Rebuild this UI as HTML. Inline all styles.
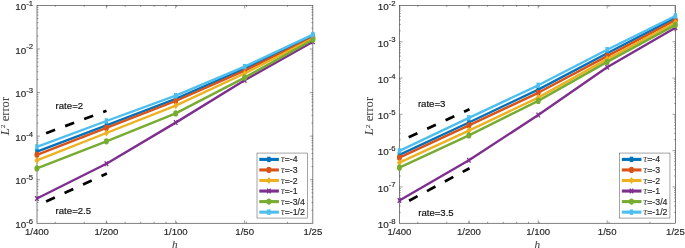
<!DOCTYPE html>
<html><head><meta charset="utf-8"><title>L2 error convergence</title>
<style>html,body{margin:0;padding:0;background:#fff}svg{display:block}text{stroke:#262626;stroke-width:.16px}text.sf{stroke:#555;stroke-width:.1px}</style></head>
<body>
<svg width="685" height="248" viewBox="0 0 685 248" font-family="'Liberation Sans',sans-serif" fill="#262626">
<rect width="685" height="248" fill="#fff"/>
<rect x="37.00" y="5.45" width="275.85" height="217.80" fill="#fff" stroke="#333" stroke-width="0.62"/>
<text x="33.10" y="10.20" text-anchor="end" font-size="9.9">10<tspan dy="-4.3" font-size="7.7">-1</tspan></text>
<text x="33.10" y="53.76" text-anchor="end" font-size="9.9">10<tspan dy="-4.3" font-size="7.7">-2</tspan></text>
<text x="33.10" y="97.32" text-anchor="end" font-size="9.9">10<tspan dy="-4.3" font-size="7.7">-3</tspan></text>
<text x="33.10" y="140.88" text-anchor="end" font-size="9.9">10<tspan dy="-4.3" font-size="7.7">-4</tspan></text>
<text x="33.10" y="184.44" text-anchor="end" font-size="9.9">10<tspan dy="-4.3" font-size="7.7">-5</tspan></text>
<text x="33.10" y="228.00" text-anchor="end" font-size="9.9">10<tspan dy="-4.3" font-size="7.7">-6</tspan></text>
<text x="36.90" y="235.3" text-anchor="middle" font-size="9.6">1/400</text>
<text x="106.40" y="235.3" text-anchor="middle" font-size="9.6">1/200</text>
<text x="175.70" y="235.3" text-anchor="middle" font-size="9.6">1/100</text>
<text x="244.65" y="235.3" text-anchor="middle" font-size="9.6">1/50</text>
<text x="312.90" y="235.3" text-anchor="middle" font-size="9.6">1/25</text>
<path d="M37.00 35.90h1.4M312.85 35.90h-1.4M37.00 28.23h1.4M312.85 28.23h-1.4M37.00 22.78h1.4M312.85 22.78h-1.4M37.00 18.56h1.4M312.85 18.56h-1.4M37.00 15.11h1.4M312.85 15.11h-1.4M37.00 12.20h1.4M312.85 12.20h-1.4M37.00 9.67h1.4M312.85 9.67h-1.4M37.00 7.44h1.4M312.85 7.44h-1.4M37.00 49.01h3M312.85 49.01h-3M37.00 79.46h1.4M312.85 79.46h-1.4M37.00 71.79h1.4M312.85 71.79h-1.4M37.00 66.34h1.4M312.85 66.34h-1.4M37.00 62.12h1.4M312.85 62.12h-1.4M37.00 58.67h1.4M312.85 58.67h-1.4M37.00 55.76h1.4M312.85 55.76h-1.4M37.00 53.23h1.4M312.85 53.23h-1.4M37.00 51.00h1.4M312.85 51.00h-1.4M37.00 92.57h3M312.85 92.57h-3M37.00 123.02h1.4M312.85 123.02h-1.4M37.00 115.35h1.4M312.85 115.35h-1.4M37.00 109.90h1.4M312.85 109.90h-1.4M37.00 105.68h1.4M312.85 105.68h-1.4M37.00 102.23h1.4M312.85 102.23h-1.4M37.00 99.32h1.4M312.85 99.32h-1.4M37.00 96.79h1.4M312.85 96.79h-1.4M37.00 94.56h1.4M312.85 94.56h-1.4M37.00 136.13h3M312.85 136.13h-3M37.00 166.58h1.4M312.85 166.58h-1.4M37.00 158.91h1.4M312.85 158.91h-1.4M37.00 153.46h1.4M312.85 153.46h-1.4M37.00 149.24h1.4M312.85 149.24h-1.4M37.00 145.79h1.4M312.85 145.79h-1.4M37.00 142.88h1.4M312.85 142.88h-1.4M37.00 140.35h1.4M312.85 140.35h-1.4M37.00 138.12h1.4M312.85 138.12h-1.4M37.00 179.69h3M312.85 179.69h-3M37.00 210.14h1.4M312.85 210.14h-1.4M37.00 202.47h1.4M312.85 202.47h-1.4M37.00 197.02h1.4M312.85 197.02h-1.4M37.00 192.80h1.4M312.85 192.80h-1.4M37.00 189.35h1.4M312.85 189.35h-1.4M37.00 186.44h1.4M312.85 186.44h-1.4M37.00 183.91h1.4M312.85 183.91h-1.4M37.00 181.68h1.4M312.85 181.68h-1.4M106.40 223.25v-3M106.40 5.45v3M175.70 223.25v-3M175.70 5.45v3M244.65 223.25v-3M244.65 5.45v3M55.24 223.25v-1.5M55.24 5.45v1.5M84.25 223.25v-1.5M84.25 5.45v1.5M106.75 223.25v-1.5M106.75 5.45v1.5M125.14 223.25v-1.5M125.14 5.45v1.5M140.68 223.25v-1.5M140.68 5.45v1.5M154.15 223.25v-1.5M154.15 5.45v1.5M166.03 223.25v-1.5M166.03 5.45v1.5M176.65 223.25v-1.5M176.65 5.45v1.5M246.55 223.25v-1.5M246.55 5.45v1.5M287.44 223.25v-1.5M287.44 5.45v1.5" stroke="#2a2a2a" stroke-width="0.45" fill="none"/>
<path d="M46.1 133.2L106.5 110.7" stroke="#000" stroke-width="2.7" stroke-dasharray="9.6 10.7" fill="none"/>
<path d="M46.1 201.4L106.9 173.6" stroke="#000" stroke-width="2.7" stroke-dasharray="9.6 10.7" fill="none"/>
<text x="55.6" y="109.0" font-size="9.6" fill="#000">rate=2</text>
<text x="55.6" y="213.6" font-size="9.6" fill="#000">rate=2.5</text>
<polyline points="36.90,151.60 106.40,125.30 175.70,98.90 244.65,68.70 312.90,36.10" fill="none" stroke="#0072BD" stroke-width="2.4" stroke-linejoin="round"/>
<rect x="35.20" y="148.90" width="3.4" height="5.4" fill="#0072BD"/>
<rect x="104.70" y="122.60" width="3.4" height="5.4" fill="#0072BD"/>
<rect x="174.00" y="96.20" width="3.4" height="5.4" fill="#0072BD"/>
<rect x="242.95" y="66.00" width="3.4" height="5.4" fill="#0072BD"/>
<rect x="311.20" y="33.40" width="3.4" height="5.4" fill="#0072BD"/>
<polyline points="36.90,154.80 106.40,127.90 175.70,101.00 244.65,70.70 312.90,37.60" fill="none" stroke="#D95319" stroke-width="2.4" stroke-linejoin="round"/>
<ellipse cx="36.90" cy="154.80" rx="2.5" ry="3.1" fill="#D95319"/>
<ellipse cx="106.40" cy="127.90" rx="2.5" ry="3.1" fill="#D95319"/>
<ellipse cx="175.70" cy="101.00" rx="2.5" ry="3.1" fill="#D95319"/>
<ellipse cx="244.65" cy="70.70" rx="2.5" ry="3.1" fill="#D95319"/>
<ellipse cx="312.90" cy="37.60" rx="2.5" ry="3.1" fill="#D95319"/>
<polyline points="36.90,160.40 106.40,133.00 175.70,105.70 244.65,73.50 312.90,38.60" fill="none" stroke="#EDB120" stroke-width="2.4" stroke-linejoin="round"/>
<path d="M34.45 160.40L36.90 156.90L39.35 160.40L36.90 163.90Z" fill="#EDB120"/>
<path d="M103.95 133.00L106.40 129.50L108.85 133.00L106.40 136.50Z" fill="#EDB120"/>
<path d="M173.25 105.70L175.70 102.20L178.15 105.70L175.70 109.20Z" fill="#EDB120"/>
<path d="M242.20 73.50L244.65 70.00L247.10 73.50L244.65 77.00Z" fill="#EDB120"/>
<path d="M310.45 38.60L312.90 35.10L315.35 38.60L312.90 42.10Z" fill="#EDB120"/>
<polyline points="36.90,198.50 106.40,163.70 175.70,122.60 244.65,80.30 312.90,41.80" fill="none" stroke="#7E2F8E" stroke-width="2.4" stroke-linejoin="round"/>
<path d="M35.22 196.10L38.58 200.90M35.22 200.90L38.58 196.10" stroke="#7E2F8E" stroke-width="1.3" fill="none"/>
<path d="M104.72 161.30L108.08 166.10M104.72 166.10L108.08 161.30" stroke="#7E2F8E" stroke-width="1.3" fill="none"/>
<path d="M174.02 120.20L177.38 125.00M174.02 125.00L177.38 120.20" stroke="#7E2F8E" stroke-width="1.3" fill="none"/>
<path d="M242.97 77.90L246.33 82.70M242.97 82.70L246.33 77.90" stroke="#7E2F8E" stroke-width="1.3" fill="none"/>
<path d="M311.22 39.40L314.58 44.20M311.22 44.20L314.58 39.40" stroke="#7E2F8E" stroke-width="1.3" fill="none"/>
<polyline points="36.90,168.40 106.40,141.30 175.70,113.40 244.65,77.60 312.90,39.70" fill="none" stroke="#77AC30" stroke-width="2.4" stroke-linejoin="round"/>
<ellipse cx="36.90" cy="168.40" rx="2.5" ry="3.1" fill="#77AC30"/>
<ellipse cx="106.40" cy="141.30" rx="2.5" ry="3.1" fill="#77AC30"/>
<ellipse cx="175.70" cy="113.40" rx="2.5" ry="3.1" fill="#77AC30"/>
<ellipse cx="244.65" cy="77.60" rx="2.5" ry="3.1" fill="#77AC30"/>
<ellipse cx="312.90" cy="39.70" rx="2.5" ry="3.1" fill="#77AC30"/>
<polyline points="36.90,146.80 106.40,121.00 175.70,95.70 244.65,66.60 312.90,34.60" fill="none" stroke="#4DBEEE" stroke-width="2.4" stroke-linejoin="round"/>
<rect x="35.20" y="144.10" width="3.4" height="5.4" fill="#4DBEEE"/>
<rect x="104.70" y="118.30" width="3.4" height="5.4" fill="#4DBEEE"/>
<rect x="174.00" y="93.00" width="3.4" height="5.4" fill="#4DBEEE"/>
<rect x="242.95" y="63.90" width="3.4" height="5.4" fill="#4DBEEE"/>
<rect x="311.20" y="31.90" width="3.4" height="5.4" fill="#4DBEEE"/>
<rect x="257.00" y="153.05" width="50.40" height="65.00" fill="#fff" stroke="#4a4a4a" stroke-width="0.5"/>
<path d="M259.30 159.40h19.6" stroke="#0072BD" stroke-width="3.1"/>
<rect x="267.20" y="156.70" width="3.4" height="5.4" fill="#0072BD"/>
<text transform="translate(280.70,162.40) scale(1.18,1)" font-family="'Liberation Serif',serif" font-style="italic" font-size="9.6" fill="#5a5a5a" class="sf">τ</text>
<text x="284.70" y="162.40" font-size="8.75">=-4</text>
<path d="M259.30 169.95h19.6" stroke="#D95319" stroke-width="3.1"/>
<ellipse cx="268.90" cy="169.95" rx="2.5" ry="3.1" fill="#D95319"/>
<text transform="translate(280.70,172.95) scale(1.18,1)" font-family="'Liberation Serif',serif" font-style="italic" font-size="9.6" fill="#5a5a5a" class="sf">τ</text>
<text x="284.70" y="172.95" font-size="8.75">=-3</text>
<path d="M259.30 180.50h19.6" stroke="#EDB120" stroke-width="3.1"/>
<path d="M266.45 180.50L268.90 177.00L271.35 180.50L268.90 184.00Z" fill="#EDB120"/>
<text transform="translate(280.70,183.50) scale(1.18,1)" font-family="'Liberation Serif',serif" font-style="italic" font-size="9.6" fill="#5a5a5a" class="sf">τ</text>
<text x="284.70" y="183.50" font-size="8.75">=-2</text>
<path d="M259.30 191.05h19.6" stroke="#7E2F8E" stroke-width="3.1"/>
<path d="M267.22 188.65L270.58 193.45M267.22 193.45L270.58 188.65" stroke="#7E2F8E" stroke-width="1.3" fill="none"/>
<text transform="translate(280.70,194.05) scale(1.18,1)" font-family="'Liberation Serif',serif" font-style="italic" font-size="9.6" fill="#5a5a5a" class="sf">τ</text>
<text x="284.70" y="194.05" font-size="8.75">=-1</text>
<path d="M259.30 201.60h19.6" stroke="#77AC30" stroke-width="3.1"/>
<ellipse cx="268.90" cy="201.60" rx="2.5" ry="3.1" fill="#77AC30"/>
<text transform="translate(280.70,204.60) scale(1.18,1)" font-family="'Liberation Serif',serif" font-style="italic" font-size="9.6" fill="#5a5a5a" class="sf">τ</text>
<text x="284.70" y="204.60" font-size="8.75">=-3/4</text>
<path d="M259.30 212.15h19.6" stroke="#4DBEEE" stroke-width="3.1"/>
<rect x="267.20" y="209.45" width="3.4" height="5.4" fill="#4DBEEE"/>
<text transform="translate(280.70,215.15) scale(1.18,1)" font-family="'Liberation Serif',serif" font-style="italic" font-size="9.6" fill="#5a5a5a" class="sf">τ</text>
<text x="284.70" y="215.15" font-size="8.75">=-1/2</text>
<text transform="translate(8.70,116.05) rotate(-90) scale(1.08,1)" text-anchor="middle" font-family="'Liberation Serif',serif" font-size="11.6" fill="#444" class="sf"><tspan font-style="italic">L</tspan><tspan dy="-3.6" font-size="7">2</tspan><tspan dy="3.6"> error</tspan></text>
<text x="174.73" y="248.0" text-anchor="middle" font-family="'Liberation Serif',serif" font-style="italic" font-size="11.3" fill="#444" class="sf">h</text>
<rect x="399.45" y="5.45" width="276.05" height="217.80" fill="#fff" stroke="#333" stroke-width="0.62"/>
<text x="395.55" y="10.20" text-anchor="end" font-size="9.9">10<tspan dy="-4.3" font-size="7.7">-2</tspan></text>
<text x="395.55" y="46.50" text-anchor="end" font-size="9.9">10<tspan dy="-4.3" font-size="7.7">-3</tspan></text>
<text x="395.55" y="82.80" text-anchor="end" font-size="9.9">10<tspan dy="-4.3" font-size="7.7">-4</tspan></text>
<text x="395.55" y="119.10" text-anchor="end" font-size="9.9">10<tspan dy="-4.3" font-size="7.7">-5</tspan></text>
<text x="395.55" y="155.40" text-anchor="end" font-size="9.9">10<tspan dy="-4.3" font-size="7.7">-6</tspan></text>
<text x="395.55" y="191.70" text-anchor="end" font-size="9.9">10<tspan dy="-4.3" font-size="7.7">-7</tspan></text>
<text x="395.55" y="228.00" text-anchor="end" font-size="9.9">10<tspan dy="-4.3" font-size="7.7">-8</tspan></text>
<text x="399.40" y="235.3" text-anchor="middle" font-size="9.6">1/400</text>
<text x="468.90" y="235.3" text-anchor="middle" font-size="9.6">1/200</text>
<text x="538.20" y="235.3" text-anchor="middle" font-size="9.6">1/100</text>
<text x="607.15" y="235.3" text-anchor="middle" font-size="9.6">1/50</text>
<text x="675.40" y="235.3" text-anchor="middle" font-size="9.6">1/25</text>
<path d="M399.45 30.82h1.4M675.50 30.82h-1.4M399.45 24.43h1.4M675.50 24.43h-1.4M399.45 19.90h1.4M675.50 19.90h-1.4M399.45 16.38h1.4M675.50 16.38h-1.4M399.45 13.50h1.4M675.50 13.50h-1.4M399.45 11.07h1.4M675.50 11.07h-1.4M399.45 8.97h1.4M675.50 8.97h-1.4M399.45 7.11h1.4M675.50 7.11h-1.4M399.45 41.75h3M675.50 41.75h-3M399.45 67.12h1.4M675.50 67.12h-1.4M399.45 60.73h1.4M675.50 60.73h-1.4M399.45 56.20h1.4M675.50 56.20h-1.4M399.45 52.68h1.4M675.50 52.68h-1.4M399.45 49.80h1.4M675.50 49.80h-1.4M399.45 47.37h1.4M675.50 47.37h-1.4M399.45 45.27h1.4M675.50 45.27h-1.4M399.45 43.41h1.4M675.50 43.41h-1.4M399.45 78.05h3M675.50 78.05h-3M399.45 103.42h1.4M675.50 103.42h-1.4M399.45 97.03h1.4M675.50 97.03h-1.4M399.45 92.50h1.4M675.50 92.50h-1.4M399.45 88.98h1.4M675.50 88.98h-1.4M399.45 86.10h1.4M675.50 86.10h-1.4M399.45 83.67h1.4M675.50 83.67h-1.4M399.45 81.57h1.4M675.50 81.57h-1.4M399.45 79.71h1.4M675.50 79.71h-1.4M399.45 114.35h3M675.50 114.35h-3M399.45 139.72h1.4M675.50 139.72h-1.4M399.45 133.33h1.4M675.50 133.33h-1.4M399.45 128.80h1.4M675.50 128.80h-1.4M399.45 125.28h1.4M675.50 125.28h-1.4M399.45 122.40h1.4M675.50 122.40h-1.4M399.45 119.97h1.4M675.50 119.97h-1.4M399.45 117.87h1.4M675.50 117.87h-1.4M399.45 116.01h1.4M675.50 116.01h-1.4M399.45 150.65h3M675.50 150.65h-3M399.45 176.02h1.4M675.50 176.02h-1.4M399.45 169.63h1.4M675.50 169.63h-1.4M399.45 165.10h1.4M675.50 165.10h-1.4M399.45 161.58h1.4M675.50 161.58h-1.4M399.45 158.70h1.4M675.50 158.70h-1.4M399.45 156.27h1.4M675.50 156.27h-1.4M399.45 154.17h1.4M675.50 154.17h-1.4M399.45 152.31h1.4M675.50 152.31h-1.4M399.45 186.95h3M675.50 186.95h-3M399.45 212.32h1.4M675.50 212.32h-1.4M399.45 205.93h1.4M675.50 205.93h-1.4M399.45 201.40h1.4M675.50 201.40h-1.4M399.45 197.88h1.4M675.50 197.88h-1.4M399.45 195.00h1.4M675.50 195.00h-1.4M399.45 192.57h1.4M675.50 192.57h-1.4M399.45 190.47h1.4M675.50 190.47h-1.4M399.45 188.61h1.4M675.50 188.61h-1.4M468.90 223.25v-3M468.90 5.45v3M538.20 223.25v-3M538.20 5.45v3M607.15 223.25v-3M607.15 5.45v3M417.74 223.25v-1.5M417.74 5.45v1.5M446.75 223.25v-1.5M446.75 5.45v1.5M469.25 223.25v-1.5M469.25 5.45v1.5M487.64 223.25v-1.5M487.64 5.45v1.5M503.18 223.25v-1.5M503.18 5.45v1.5M516.65 223.25v-1.5M516.65 5.45v1.5M528.53 223.25v-1.5M528.53 5.45v1.5M539.15 223.25v-1.5M539.15 5.45v1.5M609.05 223.25v-1.5M609.05 5.45v1.5M649.94 223.25v-1.5M649.94 5.45v1.5" stroke="#2a2a2a" stroke-width="0.45" fill="none"/>
<path d="M408.7 137.3L469.5 109.3" stroke="#000" stroke-width="2.7" stroke-dasharray="9.6 10.7" fill="none"/>
<path d="M409.1 200.7L469.5 168.2" stroke="#000" stroke-width="2.7" stroke-dasharray="9.6 10.7" fill="none"/>
<text x="417.9" y="106.8" font-size="9.6" fill="#000">rate=3</text>
<text x="418.2" y="215.8" font-size="9.6" fill="#000">rate=3.5</text>
<polyline points="399.40,154.80 468.90,122.50 538.20,89.60 607.15,53.30 675.40,17.90" fill="none" stroke="#0072BD" stroke-width="2.4" stroke-linejoin="round"/>
<rect x="397.70" y="152.10" width="3.4" height="5.4" fill="#0072BD"/>
<rect x="467.20" y="119.80" width="3.4" height="5.4" fill="#0072BD"/>
<rect x="536.50" y="86.90" width="3.4" height="5.4" fill="#0072BD"/>
<rect x="605.45" y="50.60" width="3.4" height="5.4" fill="#0072BD"/>
<rect x="673.70" y="15.20" width="3.4" height="5.4" fill="#0072BD"/>
<polyline points="399.40,157.70 468.90,125.40 538.20,92.80 607.15,56.10 675.40,20.10" fill="none" stroke="#D95319" stroke-width="2.4" stroke-linejoin="round"/>
<ellipse cx="399.40" cy="157.70" rx="2.5" ry="3.1" fill="#D95319"/>
<ellipse cx="468.90" cy="125.40" rx="2.5" ry="3.1" fill="#D95319"/>
<ellipse cx="538.20" cy="92.80" rx="2.5" ry="3.1" fill="#D95319"/>
<ellipse cx="607.15" cy="56.10" rx="2.5" ry="3.1" fill="#D95319"/>
<ellipse cx="675.40" cy="20.10" rx="2.5" ry="3.1" fill="#D95319"/>
<polyline points="399.40,162.70 468.90,130.60 538.20,97.60 607.15,59.10 675.40,22.50" fill="none" stroke="#EDB120" stroke-width="2.4" stroke-linejoin="round"/>
<path d="M396.95 162.70L399.40 159.20L401.85 162.70L399.40 166.20Z" fill="#EDB120"/>
<path d="M466.45 130.60L468.90 127.10L471.35 130.60L468.90 134.10Z" fill="#EDB120"/>
<path d="M535.75 97.60L538.20 94.10L540.65 97.60L538.20 101.10Z" fill="#EDB120"/>
<path d="M604.70 59.10L607.15 55.60L609.60 59.10L607.15 62.60Z" fill="#EDB120"/>
<path d="M672.95 22.50L675.40 19.00L677.85 22.50L675.40 26.00Z" fill="#EDB120"/>
<polyline points="399.40,200.50 468.90,160.20 538.20,115.10 607.15,67.30 675.40,27.70" fill="none" stroke="#7E2F8E" stroke-width="2.4" stroke-linejoin="round"/>
<path d="M397.72 198.10L401.08 202.90M397.72 202.90L401.08 198.10" stroke="#7E2F8E" stroke-width="1.3" fill="none"/>
<path d="M467.22 157.80L470.58 162.60M467.22 162.60L470.58 157.80" stroke="#7E2F8E" stroke-width="1.3" fill="none"/>
<path d="M536.52 112.70L539.88 117.50M536.52 117.50L539.88 112.70" stroke="#7E2F8E" stroke-width="1.3" fill="none"/>
<path d="M605.47 64.90L608.83 69.70M605.47 69.70L608.83 64.90" stroke="#7E2F8E" stroke-width="1.3" fill="none"/>
<path d="M673.72 25.30L677.08 30.10M673.72 30.10L677.08 25.30" stroke="#7E2F8E" stroke-width="1.3" fill="none"/>
<polyline points="399.40,167.70 468.90,135.40 538.20,100.90 607.15,61.90 675.40,24.90" fill="none" stroke="#77AC30" stroke-width="2.4" stroke-linejoin="round"/>
<ellipse cx="399.40" cy="167.70" rx="2.5" ry="3.1" fill="#77AC30"/>
<ellipse cx="468.90" cy="135.40" rx="2.5" ry="3.1" fill="#77AC30"/>
<ellipse cx="538.20" cy="100.90" rx="2.5" ry="3.1" fill="#77AC30"/>
<ellipse cx="607.15" cy="61.90" rx="2.5" ry="3.1" fill="#77AC30"/>
<ellipse cx="675.40" cy="24.90" rx="2.5" ry="3.1" fill="#77AC30"/>
<polyline points="399.40,150.90 468.90,117.80 538.20,85.30 607.15,49.70 675.40,16.00" fill="none" stroke="#4DBEEE" stroke-width="2.4" stroke-linejoin="round"/>
<rect x="397.70" y="148.20" width="3.4" height="5.4" fill="#4DBEEE"/>
<rect x="467.20" y="115.10" width="3.4" height="5.4" fill="#4DBEEE"/>
<rect x="536.50" y="82.60" width="3.4" height="5.4" fill="#4DBEEE"/>
<rect x="605.45" y="47.00" width="3.4" height="5.4" fill="#4DBEEE"/>
<rect x="673.70" y="13.30" width="3.4" height="5.4" fill="#4DBEEE"/>
<rect x="619.55" y="153.05" width="50.40" height="65.00" fill="#fff" stroke="#4a4a4a" stroke-width="0.5"/>
<path d="M621.85 159.40h19.6" stroke="#0072BD" stroke-width="3.1"/>
<rect x="629.75" y="156.70" width="3.4" height="5.4" fill="#0072BD"/>
<text transform="translate(643.25,162.40) scale(1.18,1)" font-family="'Liberation Serif',serif" font-style="italic" font-size="9.6" fill="#5a5a5a" class="sf">τ</text>
<text x="647.25" y="162.40" font-size="8.75">=-4</text>
<path d="M621.85 169.95h19.6" stroke="#D95319" stroke-width="3.1"/>
<ellipse cx="631.45" cy="169.95" rx="2.5" ry="3.1" fill="#D95319"/>
<text transform="translate(643.25,172.95) scale(1.18,1)" font-family="'Liberation Serif',serif" font-style="italic" font-size="9.6" fill="#5a5a5a" class="sf">τ</text>
<text x="647.25" y="172.95" font-size="8.75">=-3</text>
<path d="M621.85 180.50h19.6" stroke="#EDB120" stroke-width="3.1"/>
<path d="M629.00 180.50L631.45 177.00L633.90 180.50L631.45 184.00Z" fill="#EDB120"/>
<text transform="translate(643.25,183.50) scale(1.18,1)" font-family="'Liberation Serif',serif" font-style="italic" font-size="9.6" fill="#5a5a5a" class="sf">τ</text>
<text x="647.25" y="183.50" font-size="8.75">=-2</text>
<path d="M621.85 191.05h19.6" stroke="#7E2F8E" stroke-width="3.1"/>
<path d="M629.77 188.65L633.13 193.45M629.77 193.45L633.13 188.65" stroke="#7E2F8E" stroke-width="1.3" fill="none"/>
<text transform="translate(643.25,194.05) scale(1.18,1)" font-family="'Liberation Serif',serif" font-style="italic" font-size="9.6" fill="#5a5a5a" class="sf">τ</text>
<text x="647.25" y="194.05" font-size="8.75">=-1</text>
<path d="M621.85 201.60h19.6" stroke="#77AC30" stroke-width="3.1"/>
<ellipse cx="631.45" cy="201.60" rx="2.5" ry="3.1" fill="#77AC30"/>
<text transform="translate(643.25,204.60) scale(1.18,1)" font-family="'Liberation Serif',serif" font-style="italic" font-size="9.6" fill="#5a5a5a" class="sf">τ</text>
<text x="647.25" y="204.60" font-size="8.75">=-3/4</text>
<path d="M621.85 212.15h19.6" stroke="#4DBEEE" stroke-width="3.1"/>
<rect x="629.75" y="209.45" width="3.4" height="5.4" fill="#4DBEEE"/>
<text transform="translate(643.25,215.15) scale(1.18,1)" font-family="'Liberation Serif',serif" font-style="italic" font-size="9.6" fill="#5a5a5a" class="sf">τ</text>
<text x="647.25" y="215.15" font-size="8.75">=-1/2</text>
<text transform="translate(373.15,116.05) rotate(-90) scale(1.08,1)" text-anchor="middle" font-family="'Liberation Serif',serif" font-size="11.6" fill="#444" class="sf"><tspan font-style="italic">L</tspan><tspan dy="-3.6" font-size="7">2</tspan><tspan dy="3.6"> error</tspan></text>
<text x="537.27" y="248.0" text-anchor="middle" font-family="'Liberation Serif',serif" font-style="italic" font-size="11.3" fill="#444" class="sf">h</text>
</svg>
</body></html>
